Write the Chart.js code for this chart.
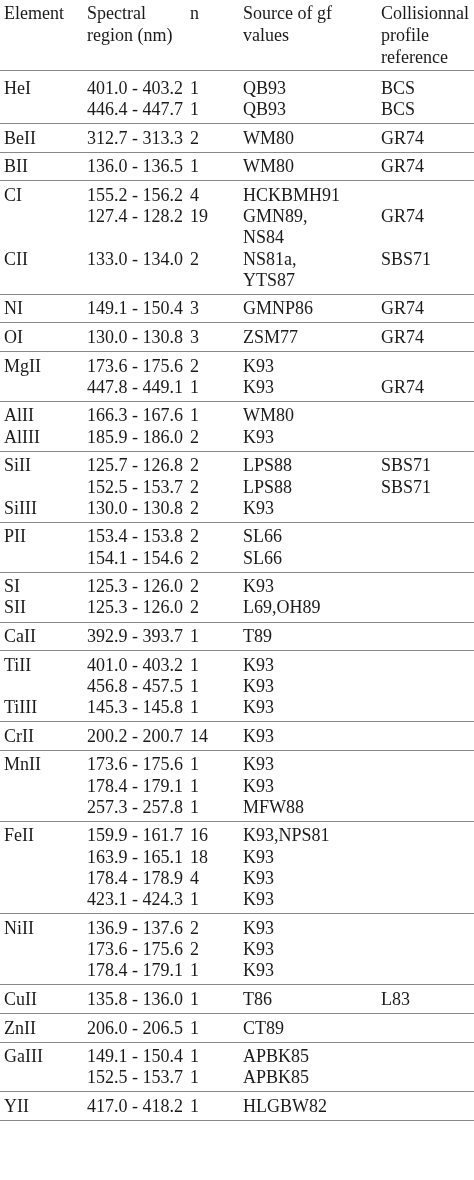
<!DOCTYPE html>
<html>
<head>
<meta charset="utf-8">
<script src="https://cdn.jsdelivr.net/npm/chart.js@4/dist/chart.umd.min.js"></script>
<style>
  body { margin: 0; background: #fff; }
</style>
</head>
<body>
<canvas id="table" width="474" height="1180"></canvas>
<script>
// Table data, one entry per printed line
const elements = ['HeI', '', 'BeII', 'BII', 'CI', '', '', 'CII', '', 'NI', 'OI', 'MgII', '', 'AlII', 'AlIII',
    'SiII', '', 'SiIII', 'PII', '', 'SI', 'SII', 'CaII', 'TiII', '', 'TiIII', 'CrII', 'MnII', '', '',
    'FeII', '', '', '', 'NiII', '', '', 'CuII', 'ZnII', 'GaIII', '', 'YII'];
const regions = ['401.0 - 403.2', '446.4 - 447.7', '312.7 - 313.3', '136.0 - 136.5', '155.2 - 156.2', '127.4 - 128.2', '',
    '133.0 - 134.0', '', '149.1 - 150.4', '130.0 - 130.8', '173.6 - 175.6', '447.8 - 449.1', '166.3 - 167.6', '185.9 - 186.0',
    '125.7 - 126.8', '152.5 - 153.7', '130.0 - 130.8', '153.4 - 153.8', '154.1 - 154.6', '125.3 - 126.0', '125.3 - 126.0',
    '392.9 - 393.7', '401.0 - 403.2', '456.8 - 457.5', '145.3 - 145.8', '200.2 - 200.7', '173.6 - 175.6', '178.4 - 179.1',
    '257.3 - 257.8', '159.9 - 161.7', '163.9 - 165.1', '178.4 - 178.9', '423.1 - 424.3', '136.9 - 137.6', '173.6 - 175.6',
    '178.4 - 179.1', '135.8 - 136.0', '206.0 - 206.5', '149.1 - 150.4', '152.5 - 153.7', '417.0 - 418.2'];
const nLines = ['1', '1', '2', '1', '4', '19', '', '2', '', '3', '3', '2', '1', '1', '2', '2', '2', '2', '2', '2', '2', '2',
    '1', '1', '1', '1', '14', '1', '1', '1', '16', '18', '4', '1', '2', '2', '1', '1', '1', '1', '1', '1'];
const sources = ['QB93', 'QB93', 'WM80', 'WM80', 'HCKBMH91', 'GMN89,', 'NS84', 'NS81a,', 'YTS87', 'GMNP86', 'ZSM77',
    'K93', 'K93', 'WM80', 'K93', 'LPS88', 'LPS88', 'K93', 'SL66', 'SL66', 'K93', 'L69,OH89', 'T89', 'K93', 'K93', 'K93',
    'K93', 'K93', 'K93', 'MFW88', 'K93,NPS81', 'K93', 'K93', 'K93', 'K93', 'K93', 'K93', 'T86', 'CT89', 'APBK85',
    'APBK85', 'HLGBW82'];
const references = ['BCS', 'BCS', 'GR74', 'GR74', '', 'GR74', '', 'SBS71', '', 'GR74', 'GR74', '', 'GR74', '', '',
    'SBS71', 'SBS71', '', '', '', '', '', '', '', '', '', '', '', '', '', '', '', '', '', '', '', '', 'L83', '', '', '', ''];
// number of printed lines in each ruled block
const groupSizes = [2, 1, 1, 5, 1, 1, 2, 2, 3, 2, 2, 1, 3, 1, 3, 4, 3, 1, 1, 2, 1];
const headers = [
    ['Element'],
    ['Spectral', 'region (nm)'],
    ['n'],
    ['Source of gf', 'values'],
    ['Collisionnal', 'profile', 'reference']
];

const columnX = [4, 87, 190, 243, 381];
const firstLine = 4.18, groupGap = 0.34;

// line positions in scale units
const linePos = [];
const ruleLines = [3.29];
groupSizes.forEach((size, g) => {
    for (let k = 0; k < size; k++) linePos.push(firstLine + linePos.length + g * groupGap);
    ruleLines.push(linePos[linePos.length - 1] + 0.6);
});

const tablePlugin = {
    id: 'tableText',
    afterDraw(chart) {
        const ctx = chart.ctx;
        const xs = chart.scales.x, ys = chart.scales.y;
        ctx.save();
        ctx.strokeStyle = '#888';
        ctx.lineWidth = 1;
        ruleLines.forEach(v => {
            const y = Math.round(ys.getPixelForValue(v)) + 0.5;
            ctx.beginPath();
            ctx.moveTo(xs.getPixelForValue(0), y);
            ctx.lineTo(xs.getPixelForValue(474), y);
            ctx.stroke();
        });
        ctx.fillStyle = '#1a1a1a';
        ctx.font = '18px "Liberation Serif", "DejaVu Serif", serif';
        ctx.textBaseline = 'middle';
        headers.forEach((lines, c) => {
            lines.forEach((t, k) => ctx.fillText(t, xs.getPixelForValue(columnX[c]), ys.getPixelForValue(0.66 + k * 1.03)));
        });
        const cols = [elements, regions, nLines, sources, references];
        linePos.forEach((v, i) => {
            const y = ys.getPixelForValue(v);
            cols.forEach((col, c) => {
                if (col[i]) ctx.fillText(col[i], xs.getPixelForValue(columnX[c]), y);
            });
        });
        ctx.restore();
    }
};

new Chart(document.getElementById('table').getContext('2d'), {
    type: 'scatter',
    data: {
        datasets: [{
            data: linePos.map(v => ({ x: 0, y: v })),
            pointRadius: 0
        }]
    },
    options: {
        responsive: false,
        animation: false,
        layout: { padding: 0 },
        plugins: { legend: { display: false }, tooltip: { enabled: false } },
        scales: {
            x: { type: 'linear', min: 0, max: 474, display: false },
            y: { type: 'linear', min: 0, max: 1180 / 21.3, reverse: true, display: false }
        }
    },
    plugins: [tablePlugin]
});
</script>
</body>
</html>
